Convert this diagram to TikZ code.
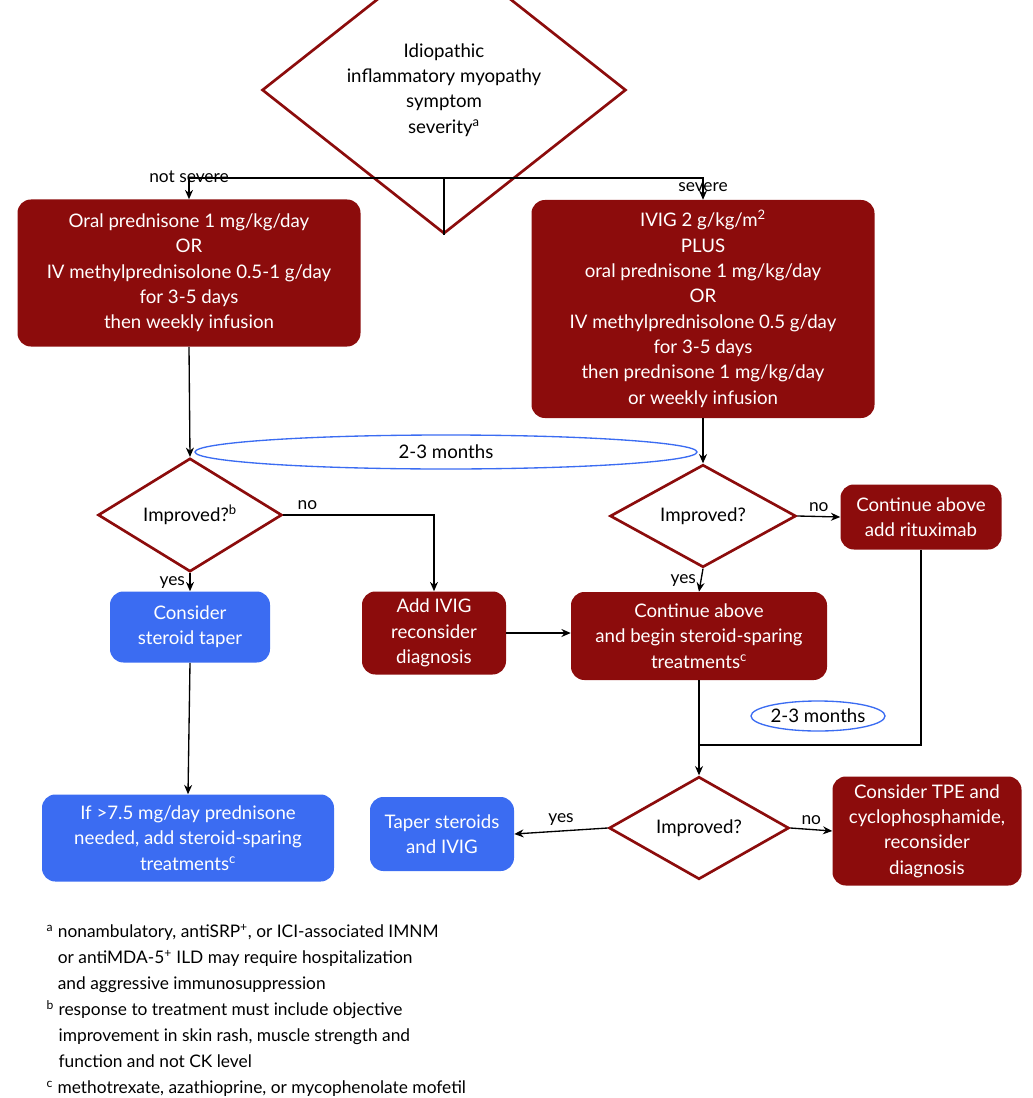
\documentclass[tikz,border=0pt]{standalone}
\usepackage{fontspec}
\setmainfont{Lato}
\usetikzlibrary{shapes.geometric,arrows.meta}
\definecolor{dred}{HTML}{8C0C0C}
\definecolor{tblue}{HTML}{3B6CF2}
\tikzset{
  box/.style={rounded corners=10pt, fill=dred, text=white, align=center, inner sep=0pt},
  bbox/.style={rounded corners=10pt, fill=tblue, text=white, align=center, inner sep=0pt},
  dec/.style={diamond, draw=dred, line width=2pt, fill=white, align=center, inner sep=0pt},
  oval/.style={ellipse, draw=tblue, line width=1pt, inner sep=0pt},
  arr/.style={-{Stealth[length=7pt,width=6pt]}, line width=1pt},
  lab/.style={font=\fontsize{13}{14}\selectfont}
}
\begin{document}
\begin{tikzpicture}[x=0.75pt,y=-0.75pt,font=\fontsize{14}{19}\selectfont]
\useasboundingbox (0,0) rectangle (1032,1098);
% decisions and boxes
\node (sev) [dec, minimum width=364*0.75pt, minimum height=156*0.75pt] at (444,90) {Idiopathic\\inflammatory myopathy\\symptom\\severity\textsuperscript{a}};
\node (oral) [box, minimum width=343*0.75pt, minimum height=147*0.75pt] at (189,273) {Oral prednisone 1 mg/kg/day\\OR\\IV methylprednisolone 0.5-1 g/day\\for 3-5 days\\then weekly infusion};
\node (ivig) [box, minimum width=343*0.75pt, minimum height=218*0.75pt] at (703,309) {IVIG 2 g/kg/m\textsuperscript{2}\\PLUS\\oral prednisone 1 mg/kg/day\\OR\\IV methylprednisolone 0.5 g/day\\for 3-5 days\\then prednisone 1 mg/kg/day\\or weekly infusion};
\node (months) [oval, minimum width=502*0.75pt, minimum height=34*0.75pt] at (446,452) {2-3 months};
\node (imp1) [dec, minimum width=184*0.75pt, minimum height=74*0.75pt] at (190,515) {Improved?\textsuperscript{b}};
\node (imp2) [dec, minimum width=186*0.75pt, minimum height=76*0.75pt] at (703,516) {Improved?};
\node (ritux) [box, minimum width=161*0.75pt, minimum height=65*0.75pt] at (921,517) {Continue above\\add rituximab};
\node (taper) [bbox, minimum width=160*0.75pt, minimum height=71*0.75pt] at (190,627) {Consider\\steroid taper};
\node (addivig) [box, minimum width=144*0.75pt, minimum height=83*0.75pt] at (434,633) {Add IVIG\\reconsider\\diagnosis};
\node (cont) [box, minimum width=256*0.75pt, minimum height=88*0.75pt] at (699,636) {Continue above\\and begin steroid-sparing\\treatments\textsuperscript{c}};
\node (months2) [oval, minimum width=120*0.75pt, minimum height=30*0.75pt] at (818,716) {2-3 months};
\node (imp3) [dec, minimum width=180*0.75pt, minimum height=80*0.75pt] at (699,828) {Improved?};
\node (high) [bbox, minimum width=292*0.75pt, minimum height=87*0.75pt] at (188,838) {If >7.5 mg/day prednisone\\needed, add steroid-sparing\\treatments\textsuperscript{c}};
\node (tapiv) [bbox, minimum width=144*0.75pt, minimum height=74*0.75pt] at (442,834) {Taper steroids\\and IVIG};
\node (tpe) [box, minimum width=189*0.75pt, minimum height=109*0.75pt] at (927,831) {Consider TPE and\\cyclophosphamide,\\reconsider\\diagnosis};
% connectors
\coordinate (split) at (444,178);
\draw [line width=1pt] (sev.south) -- (split);
\draw [arr] (split) -| (oral.north) node [lab, pos=0.72, above] {not severe};
\draw [arr] (split) -| (ivig.north) node [lab, pos=0.92, above] {severe};
\draw [arr] (oral.south) -- (imp1.north);
\draw [arr] (ivig.south) -- (imp2.north);
\draw [arr] (imp1.east) -| (addivig.north) node [lab, pos=0.08, above] {no};
\draw [arr] (imp1.south) -- (taper.north) node [lab, midway, left] {yes};
\draw [arr] (addivig.east) -- (addivig.east -| cont.west);
\draw [arr] (imp2.east) -- (ritux.west) node [lab, midway, above] {no};
\draw [arr] (imp2.south) -- (cont.north) node [lab, midway, left] {yes};
\coordinate (join) at (699,745);
\draw [line width=1pt] (ritux.south) |- (join);
\draw [arr] (cont.south) -- (imp3.north);
\draw [arr] (taper.south) -- (high.north);
\draw [arr] (imp3.west) -- (tapiv.east) node [lab, midway, above] {yes};
\draw [arr] (imp3.east) -- (tpe.west) node [lab, midway, above] {no};
% footnotes
\node (notes) [anchor=north west, align=left, font=\fontsize{13}{19.5}\selectfont] at (42,920) {\textsuperscript{a} nonambulatory, antiSRP\textsuperscript{+}, or ICI-associated IMNM\\
\hphantom{\textsuperscript{a} }or antiMDA-5\textsuperscript{+} ILD may require hospitalization\\
\hphantom{\textsuperscript{a} }and aggressive immunosuppression\\
\textsuperscript{b} response to treatment must include objective\\
\hphantom{\textsuperscript{b} }improvement in skin rash, muscle strength and\\
\hphantom{\textsuperscript{b} }function and not CK level\\
\textsuperscript{c} methotrexate, azathioprine, or mycophenolate mofetil};
\end{tikzpicture}
\end{document}
